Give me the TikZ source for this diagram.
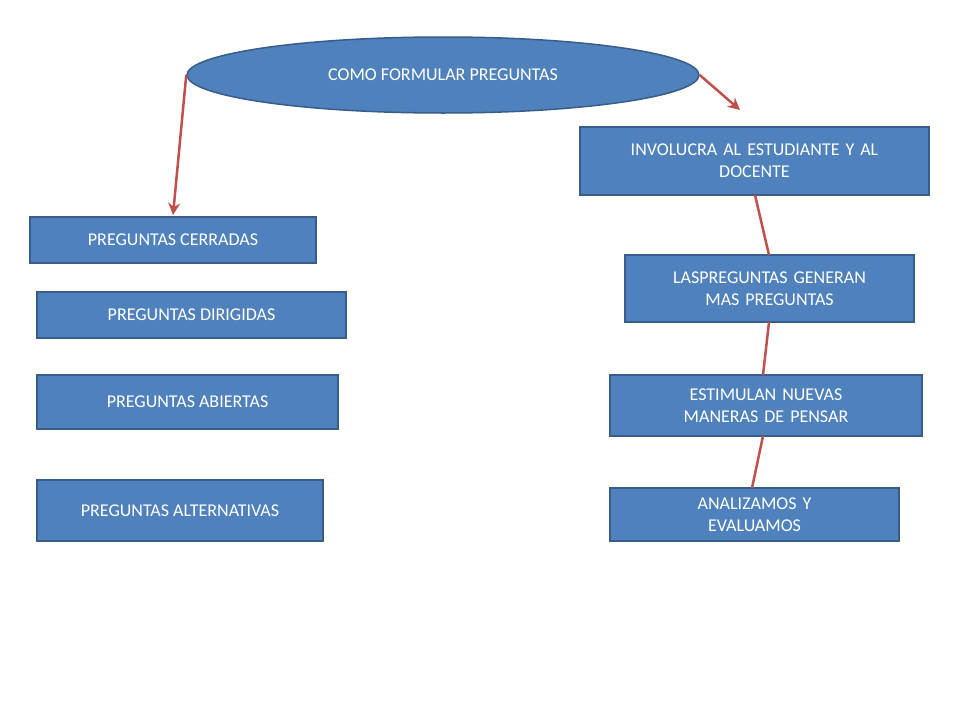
\documentclass[tikz,border=0pt]{standalone}
\usepackage{fontspec}
\setmainfont{Carlito}
\usetikzlibrary{shapes.geometric,arrows.meta}
\definecolor{boxfill}{HTML}{4F81BD}
\definecolor{boxline}{HTML}{385D8A}
\definecolor{arr}{HTML}{C0504D}
\begin{document}
\begin{tikzpicture}[x=1pt,y=-1pt,
  bx/.style={draw=boxline,line width=1.5pt,fill=boxfill,text=white,font=\fontsize{18}{22}\selectfont,align=center,inner sep=2pt},
  con/.style={draw=arr,line width=2.5pt},
  conarr/.style={con,-{Stealth[length=12pt,width=12pt]}}]
\useasboundingbox (0,0) rectangle (960,720);
\fill[white] (0,0) rectangle (960,720);
\node[bx,ellipse,minimum width=512pt,minimum height=76pt] (e) at (443,75) {COMO FORMULAR PREGUNTAS};
\node[bx,minimum width=286pt,minimum height=46pt] (c) at (173,240) {PREGUNTAS CERRADAS};
\node[bx,minimum width=309pt,minimum height=46pt] (d) at (191.5,315) {PREGUNTAS DIRIGIDAS};
\node[bx,minimum width=301pt,minimum height=54pt] (a) at (187.5,402) {PREGUNTAS ABIERTAS};
\node[bx,minimum width=286pt,minimum height=61pt] (al) at (180,510.5) {PREGUNTAS ALTERNATIVAS};
\node[bx,text width=345pt,minimum height=68pt] (i) at (754.5,161) {INVOLUCRA AL ESTUDIANTE Y AL\\DOCENTE};
\node[bx,text width=285pt,minimum height=67pt] (l) at (769.5,288.5) {LASPREGUNTAS GENERAN\\MAS PREGUNTAS};
\node[bx,text width=308pt,minimum height=61pt] (s) at (766,405.5) {ESTIMULAN NUEVAS\\MANERAS DE PENSAR};
\node[bx,text width=285pt,minimum height=53pt] (n) at (754.5,514.5) {ANALIZAMOS Y\\EVALUAMOS};
\coordinate (ta) at (173,215);
\coordinate (tb) at (740,110);
\draw[conarr] (e.west) ++(0,0) -- (ta);
\draw[conarr] (e.east) -- (tb);
\draw[con] (755,195) -- (769,255);
\draw[con] (769,322) -- (763,375);
\draw[con] (763,436) -- (752,488);
\end{tikzpicture}
\end{document}
